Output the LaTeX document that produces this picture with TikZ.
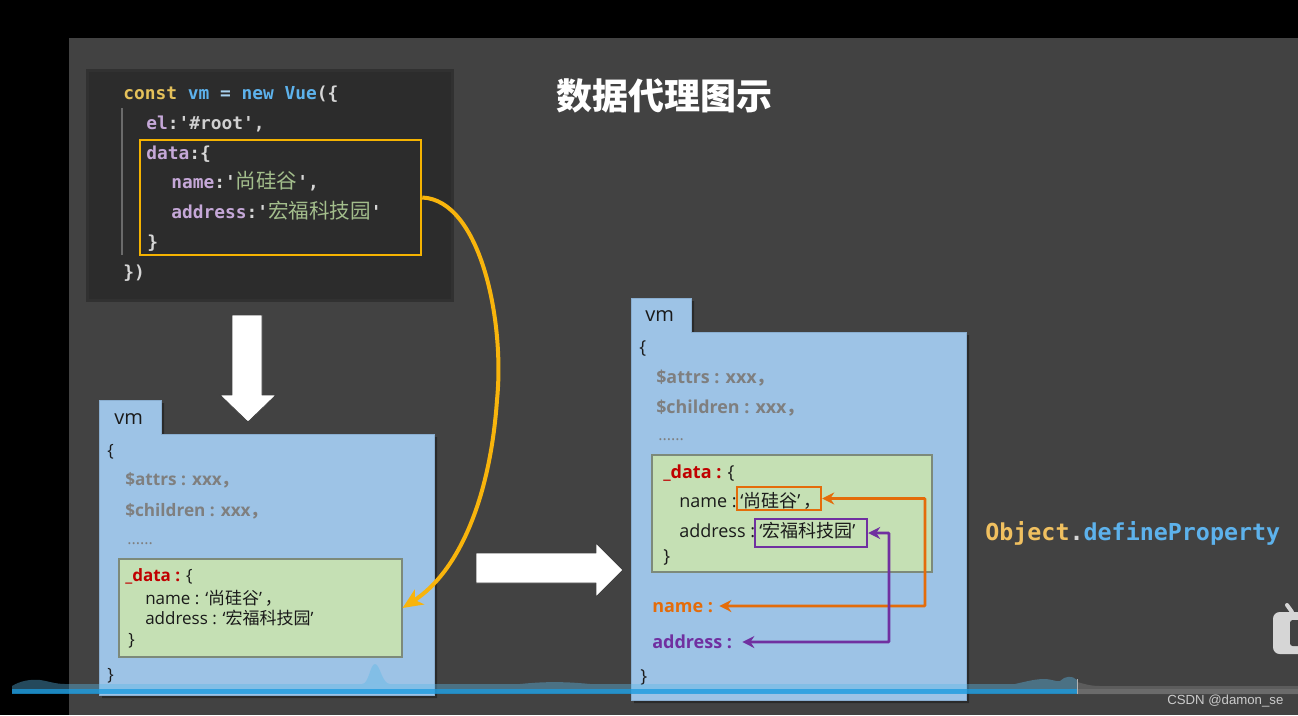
\documentclass[tikz,border=0pt]{standalone}
\usepackage{fontspec}
\setmainfont{Open Sans}
\newfontfamily\cjk{Noto Sans CJK SC}
\newfontfamily\cjkc{Noto Sans CJK SC}[Scale=1.15]
\newfontfamily\codef{DejaVu Sans Mono}
\newfontfamily\wmf{Liberation Sans}
\usetikzlibrary{arrows.meta,fit,calc}
\definecolor{slide}{HTML}{424242}
\definecolor{codebg}{HTML}{2C2C2C}
\definecolor{yboxc}{HTML}{F5B301}
\definecolor{yarrc}{HTML}{F8B40C}
\definecolor{boxblue}{HTML}{9DC3E6}
\definecolor{boxedge}{HTML}{8AAED0}
\definecolor{gfill}{HTML}{C5E0B4}
\definecolor{gedge}{HTML}{7D8A7A}
\definecolor{redc}{HTML}{C00000}
\definecolor{orangec}{HTML}{E46C0A}
\definecolor{purplec}{HTML}{7030A0}
\definecolor{grayt}{HTML}{7F7F7F}
\definecolor{darkt}{HTML}{1A1A1A}
\definecolor{kw}{HTML}{E5C15A}
\definecolor{blu}{HTML}{5DB2EC}
\definecolor{eqc}{HTML}{A9D2F0}
\definecolor{punc}{HTML}{D6D6D6}
\definecolor{prop}{HTML}{C5A8D8}
\definecolor{strc}{HTML}{D0D0D0}
\definecolor{cjkg}{HTML}{A3BE8C}
\definecolor{objc}{HTML}{F0C060}
\definecolor{wavec}{HTML}{5AB8E8}
\definecolor{pbar}{HTML}{1A9BE0}
\definecolor{iconc}{HTML}{D6D6D6}
\begin{document}
\begin{tikzpicture}[x=0.75pt,y=-0.75pt,
  bw/.style={anchor=base west,inner sep=0pt},
  codetxt/.style={bw,font=\codef\bfseries\fontsize{13.4}{16}\selectfont,text=punc},
  ltxt/.style={bw,font=\fontsize{12.75}{15}\selectfont,text=darkt},
  rtxt/.style={bw,font=\fontsize{13.5}{16}\selectfont,text=darkt},
  lgray/.style={bw,font=\bfseries\fontsize{12.9}{15}\selectfont,text=grayt},
  rgray/.style={bw,font=\bfseries\fontsize{13.4}{16}\selectfont,text=grayt},
  vmbox/.style={fill=boxblue,draw=boxedge,line width=0.6pt},
  greenbox/.style={fill=gfill,draw=gedge,line width=0.8pt,inner sep=0pt},
  blockarrow/.style={fill=white,draw=black!75,line width=0.6pt,line join=round},
  conn/.style={line width=2pt,rounded corners=0.5pt}
]
\useasboundingbox (0,0) rectangle (1298,715);
\begin{scope}
\clip (0,0) rectangle (1298,715);
\fill[black] (0,0) rectangle (1298,715);
\fill[slide] (69,38) rectangle (1298,715);

% code box
\fill[black,opacity=.25] (86,69) rectangle (454,302);
\node[fit={(89,72) (451,299)},inner sep=0pt,fill=codebg] (codebox) {};
\draw[white!30!codebg,line width=0.8pt] (122,108) -- (122,255);
\node[codetxt] (c1) at (123,99) {{\color{kw}const} {\color{blu}vm} {\color{eqc}=} {\color{blu}new Vue}(\{};
\node[codetxt] (c2) at (146,129) {{\color{prop}el}:{\color{strc}\textquotesingle\#root\textquotesingle},};
\node[codetxt] (c3) at (146,159) {{\color{prop}data}:\{};
\node[codetxt] (c4) at (171,188) {{\color{prop}name}:\textquotesingle{\cjkc\mdseries\color{cjkg}尚硅谷}\textquotesingle,};
\node[codetxt] (c5) at (171,218) {{\color{prop}address}:\textquotesingle{\cjkc\mdseries\color{cjkg}宏福科技园}\textquotesingle};
\node[codetxt] (c6) at (147,248) {\}};
\node[codetxt] (c7) at (123,278) {\})};
\node[fit={(140,140) (421,255)},inner sep=0pt,draw=yboxc,line width=1.9pt] (ydata) {};

% title
\node[anchor=base,inner sep=0pt,text=white,font=\cjk\bfseries\fontsize{27}{30}\selectfont] (title) at (664,109) {数据代理图示};

% block arrows
\path[blockarrow] (232,315) -- (262,315) -- (262,395) -- (276,395) -- (248,422) -- (220,395) -- (232,395) -- cycle;
\path[blockarrow] (476,553) -- (596,553) -- (596,543) -- (623,570) -- (596,597) -- (596,583) -- (476,583) -- cycle;

% left vm box
\fill[black,opacity=.35] (102,403) -- (164,403) -- (164,437) -- (437,437) -- (437,698) -- (102,698) -- cycle;
\path[vmbox] (99,400) -- (161,400) -- (161,434) -- (434,434) -- (434,695) -- (99,695) -- cycle;
\node[bw,font=\fontsize{15}{18}\selectfont,text=darkt] (lvm) at (114,424) {vm};
\node[ltxt] (lob) at (107,456) {\{};
\node[lgray] (lattrs) at (125,485) {\$attrs : xxx{\cjk\bfseries ，}};
\node[lgray] (lchild) at (125,516) {\$children : xxx{\cjk\bfseries ，}};
\node[lgray,font=\fontsize{12}{14}\selectfont] (ldots) at (127,544) {......};
\node[greenbox,fit={(119,559) (402,657)}] (lgreen) {};
\node[ltxt] (ldata) at (125,581) {{\bfseries\color{redc}\_data :} \{};
\node[ltxt] (lname) at (145,604) {name : ‘{\cjk 尚硅谷}’\,{\cjk ，}};
\node[ltxt] (laddr) at (145,624) {address : ‘{\cjk 宏福科技园}’};
\node[ltxt] (lcb) at (128,645) {\}};
\node[ltxt] (lcb2) at (107,680) {\}};

% right vm box
\fill[black,opacity=.35] (634,301) -- (694,301) -- (694,335) -- (969,335) -- (969,703) -- (634,703) -- cycle;
\path[vmbox] (631,298) -- (691,298) -- (691,332) -- (966,332) -- (966,700) -- (631,700) -- cycle;
\node[bw,font=\fontsize{15}{18}\selectfont,text=darkt] (rvm) at (645,321) {vm};
\node[rtxt] (rob) at (639,353) {\{};
\node[rgray] (rattrs) at (656,383) {\$attrs : xxx{\cjk\bfseries ，}};
\node[rgray] (rchild) at (656,413) {\$children : xxx{\cjk\bfseries ，}};
\node[rgray,font=\fontsize{12}{14}\selectfont] (rdots) at (658,440) {......};
\node[greenbox,fit={(652,455) (932,572)}] (rgreen) {};
\node[rtxt] (rdata) at (663,478) {{\bfseries\color{redc}\_data :} \{};
\node[rtxt] (rname) at (679,507) {name :};
\node[rtxt] (rnamev) at (740,507) {‘{\cjk 尚硅谷}’\,{\cjk ，}};
\node[rtxt] (raddr) at (679,537) {address :};
\node[rtxt] (raddrv) at (759,537) {‘{\cjk 宏福科技园}’};
\node[rtxt] (rcb) at (663,562) {\}};
\node[fit={(737,487) (821,510)},inner sep=0pt,draw=orangec,line width=1.8pt] (obox) {};
\node[fit={(755,519) (867,547)},inner sep=0pt,draw=purplec,line width=1.8pt] (pbox) {};
\node[rtxt,font=\bfseries\fontsize{13.5}{16}\selectfont,text=orangec] (nameR) at (652,612) {name :};
\node[rtxt,font=\bfseries\fontsize{13.5}{16}\selectfont,text=purplec] (addrR) at (652,648) {address :};
\node[rtxt] (rcb2) at (640,682) {\}};

% connectors
\coordinate (oc) at (925,606);
\coordinate (pc) at (889,642);
\draw[conn,orangec,{Stealth[length=9pt,width=9pt]}-{Stealth[length=9pt,width=9pt]}]
  (obox.east) -| (oc) -- ($(oc -| nameR.east)+(6,0)$);
\draw[conn,purplec,{Stealth[length=9pt,width=9pt]}-{Stealth[length=9pt,width=9pt]}]
  (pbox.east) -| (pc) -- ($(pc -| addrR.east)+(10,0)$);
\draw[line width=3pt,yarrc,-{Stealth[length=15pt,width=13pt,inset=4pt]}]
  (ydata.east) .. controls (480,200) and (505,320) .. (497,400)
  .. controls (490,500) and (458,572) .. (lgreen.east);

% Object.defineProperty
\node[bw,font=\codef\bfseries\fontsize{17.5}{20}\selectfont] (odp) at (985,540) {{\color{objc}Object}{\color{punc}.}{\color{blu}defineProperty}};

% player bar
\fill[wavec,opacity=.4] (12,693) -- (12,686) .. controls (20,681) and (30,679) .. (40,680)
  .. controls (48,681) and (55,684) .. (65,684) -- (362,684)
  .. controls (369,684) and (370,664) .. (375,664) .. controls (380,664) and (382,684) .. (390,684)
  -- (520,684) .. controls (540,682) and (560,681) .. (590,684) -- (1015,684)
  .. controls (1028,681) and (1036,679) .. (1044,679) .. controls (1052,679) and (1056,682) .. (1060,681)
  .. controls (1065,676) and (1072,675) .. (1077,680) -- (1077,693) -- cycle;
\fill[white!36!black] (1077,682) .. controls (1085,684) and (1090,686) .. (1100,686) -- (1298,686) -- (1298,694) -- (1077,694) -- cycle;
\fill[white!42!black] (1077,689) rectangle (1298,694);
\fill[pbar,opacity=.75] (12,689) rectangle (1077,694);
\draw[white!70!black,line width=0.6pt] (1077,679) -- (1077,694);
\node[bw,font=\wmf\fontsize{9.9}{12}\selectfont,text=white!80!black] (wm) at (1167,704) {CSDN @damon\_se};

% icon at right edge
\fill[iconc,rounded corners=5pt] (1273,612) rectangle (1325,654);
\fill[slide,rounded corners=2pt] (1290,620) rectangle (1325,646);
\draw[iconc,line width=3pt,line cap=round] (1287,605) -- (1292,612);
\end{scope}
\end{tikzpicture}
\end{document}
